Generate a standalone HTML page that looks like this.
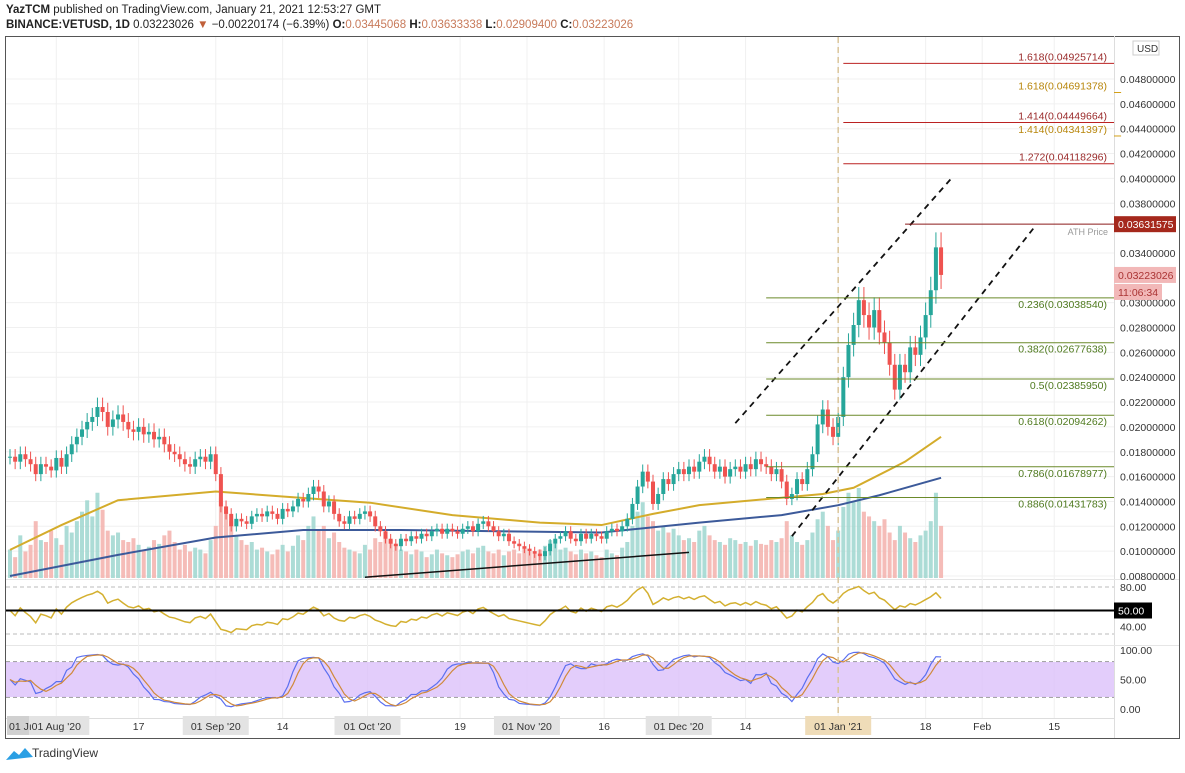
<!DOCTYPE html>
<html><head><meta charset="utf-8"><style>
body{margin:0;background:#fff;width:1185px;height:768px;overflow:hidden;font-family:"Liberation Sans",sans-serif}
svg text{font-family:"Liberation Sans",sans-serif}
</style></head><body>
<svg id="c" width="1185" height="768" xmlns="http://www.w3.org/2000/svg">
<text x="6" y="13" font-size="11.5" fill="#222"><tspan font-weight="bold">YazTCM</tspan> published on TradingView.com, January 21, 2021 12:53:27 GMT</text>
<text x="6" y="28" font-size="11.5" fill="#222"><tspan font-weight="bold">BINANCE:VETUSD, 1D</tspan> 0.03223026 <tspan fill="#c0603a">▼</tspan> −0.00220174 (−6.39%) <tspan font-weight="bold">O:</tspan><tspan fill="#c87a5a">0.03445068</tspan> <tspan font-weight="bold">H:</tspan><tspan fill="#c87a5a">0.03633338</tspan> <tspan font-weight="bold">L:</tspan><tspan fill="#c87a5a">0.02909400</tspan> <tspan font-weight="bold">C:</tspan><tspan fill="#c87a5a">0.03223026</tspan></text>
<rect x="5.5" y="36.5" width="1174" height="702" fill="none" stroke="#555"/>
<line x1="1114.5" y1="36" x2="1114.5" y2="738" stroke="#ddd"/>
<line x1="6" y1="718.5" x2="1114" y2="718.5" stroke="#ddd"/>
<line x1="6" y1="579.5" x2="1179" y2="579.5" stroke="#e6e6e6"/>
<line x1="6" y1="645.5" x2="1179" y2="645.5" stroke="#e6e6e6"/>
<g id="grid"></g>
<rect x="6" y="662" width="1108" height="35" fill="#dcc0fa" opacity="0.8"/>
<g id="marks"></g>
<g id="overlay"></g>
<g id="axes"></g>
<g>
<path d="M6 760 l8 -9 l5 4 l6 -7 l8 9 z" fill="#2a9fe4"/>
<text x="32" y="757" font-size="12" fill="#333">TradingView</text>
</g>
</svg>
<script>
const closes=[17.6,17.2,17.8,17.4,17.0,16.2,17.0,16.8,
16.5,17.5,16.8,17.8,18.6,19.2,19.8,20.4,20.8,21.6,21.2,20.0,20.6,21.0,20.4,19.8,19.6,20.0,19.4,19.6,19.0,19.2,18.6,18.0,17.8,17.4,17.0,16.8,17.4,17.6,17.2,
17.8,16.2,13.6,13.0,12.0,12.6,12.4,12.2,12.8,13.0,12.8,13.2,13.0,12.6,13.4,13.2,13.6,14.2,14.0,14.6,15.2,14.8,13.6,14.0,13.0,12.4,12.2,12.8,12.6,13.0,
13.2,12.8,12.0,11.6,11.0,10.6,10.4,11.0,10.8,11.2,11.0,11.4,11.2,11.6,11.8,11.4,11.8,11.6,11.4,11.8,12.0,11.6,12.2,12.4,12.0,11.6,11.2,11.4,10.8,10.6,10.4,
10.2,10.0,9.8,9.6,10.0,10.6,11.0,11.2,11.6,11.0,10.8,11.4,11.0,11.4,11.2,11.0,11.6,11.8,11.6,12.0,12.6,13.8,15.2,16.4,15.6,13.8,14.6,15.8,15.4,16.2,
16.6,16.2,16.8,16.4,17.2,17.6,17.0,16.4,16.8,16.0,16.6,16.8,16.4,17.0,16.6,17.4,17.0,16.8,16.2,16.6,15.6,14.2,14.6,15.8,15.4,16.6,17.8,20.2,21.4,20.0,19.2,
20.8,24.0,26.6,28.2,30.2,29.0,28.0,29.4,27.6,26.8,25.0,23.0,25.0,24.4,26.4,25.8,27.2,29.0,31.0,34.45,32.23];
const volumes=[30,22,45,28,35,60,40,38,
50,42,35,55,48,60,70,82,65,90,72,50,45,48,40,38,42,35,30,33,40,36,45,50,38,30,35,28,32,30,26,
40,55,85,70,60,45,40,35,38,30,32,28,25,30,35,28,34,45,40,55,65,50,55,42,48,38,32,30,28,26,
35,30,42,38,45,40,35,30,28,25,30,28,22,25,30,26,24,22,25,28,30,26,32,34,28,26,30,24,28,30,26,
32,28,26,30,34,40,36,30,32,28,25,30,26,28,24,22,30,26,24,32,38,55,70,80,65,60,50,55,48,52,
45,40,42,38,50,55,45,40,38,35,42,40,36,38,34,40,36,35,40,38,42,60,45,38,35,40,48,62,70,55,40,
50,75,90,80,95,70,65,60,55,62,48,40,55,48,42,38,45,50,60,90,55];
const ma50=[10.1,12.1,14.1,14.8,14.4,13.9,12.9,12.3,12.1,13.0,13.7,14.3,14.6,15.1,17.2,19.2];
const ma50Day=[0,10,21,40,53,70,86,103,115,125,134,150,158,164,174,181];
const ma200=[8.0,9.7,11.1,11.7,11.7,11.6,11.5,12.3,12.9,13.7,14.5,15.9];
const ma200Day=[0,21,40,57,76,95,115,134,150,161,169,181];
const priceTicks=[0.008,0.010,0.012,0.014,0.016,0.018,0.020,0.022,0.024,0.026,0.028,0.030,0.034,0.038,0.040,0.042,0.044,0.046,0.048];
const fibLevels=[30.3854,26.77638,23.8595,20.94262,16.78977,14.31783];
const fibLabels=["0.236(0.03038540)","0.382(0.02677638)","0.5(0.02385950)","0.618(0.02094262)","0.786(0.01678977)","0.886(0.01431783)"];
const extLevels=[49.25714,46.91378,44.49664,43.41397,41.18296];
const extLabels=["1.618(0.04925714)","1.618(0.04691378)","1.414(0.04449664)","1.414(0.04341397)","1.272(0.04118296)"];
const extColors=["#b22","#d4a017","#b22","#d4a017","#b22"];
const extStartDay=[162,216,162,216,162];
const timeLabels=["01 Aug '20","17","01 Sep '20","14","01 Oct '20","19","01 Nov '20","16","01 Dec '20","14","01 Jan '21","18","Feb","15"];
const timeDays=[9,25,40,53,69.5,87.5,100.5,115.5,130,143,161,178,189,203];
const timeBoxed=[1,0,1,0,1,0,1,0,1,0,2,0,0,0];

const NS="http://www.w3.org/2000/svg";
const X0=10,DX=5.144;
const xs=i=>X0+i*DX;
const yp=v=>576-(v-8)/2*24.85;
const yr=v=>610.5-(v-50)*0.783;
const ys=v=>709-v*0.59;
function mk(tag,at,par){const e=document.createElementNS(NS,tag);for(const k in at)e.setAttribute(k,at[k]);par.appendChild(e);return e;}
const G=document.getElementById('grid'),M=document.getElementById('marks'),O=document.getElementById('overlay'),A=document.getElementById('axes');

priceTicks.forEach(t=>{const l=mk('line',{x1:6,x2:1114,y1:yp(t*1000),y2:yp(t*1000),stroke:'#f0f0f0'},G);

});
timeDays.forEach(d=>{const l=mk('line',{x1:xs(d),x2:xs(d),y1:37,y2:718,stroke:'#f0f0f0'},G);

});
[[yr(80),'#bbb'],[yr(20),'#bbb'],[ys(80),'#888'],[ys(20),'#888']].forEach(([y,c])=>{const l=mk('line',{x1:6,x2:1114,y1:y,y2:y,stroke:c,'stroke-dasharray':'4 3'},G);

});

const vl=mk('line',{x1:xs(161),x2:xs(161),y1:37,y2:718,stroke:'#d9c49a','stroke-dasharray':'6 4','stroke-width':1.5},O);



const vmax=95;
closes.forEach((c,i)=>{const o=i?closes[i-1]:c;const up=c>=o;const h=volumes[i]/vmax*90;
const r=mk('rect',{x:xs(i)-2,y:578-h,width:4,height:h,fill:up?'#9dd6cf':'#f3b0ac',opacity:0.85},M);

});

function poly(vals,days,color,name){const p=mk('polyline',{points:vals.map((v,i)=>xs(days[i])+','+yp(v)).join(' '),fill:'none',stroke:color,'stroke-width':2},M);

}
poly(ma50,ma50Day,'#d4ac2b','ma-50-line');
poly(ma200,ma200Day,'#3c5a9a','ma-200-line');

closes.forEach((c,i)=>{const o=i?closes[i-1]:c;const up=c>=o;const col=up?'#26a69a':'#ef5350';
const hi=Math.max(o,c)*1.035,lo=Math.min(o,c)*0.965;
const w=mk('line',{x1:xs(i),x2:xs(i),y1:yp(hi),y2:yp(lo),stroke:col},M);


const top=yp(Math.max(o,c)),bot=yp(Math.min(o,c));
const b=mk('rect',{x:xs(i)-2,y:top,width:4,height:Math.max(1,bot-top),fill:col},M);

});

function rsi(p,n){const out=[];let ag=0.1,al=0.1;for(let i=0;i<p.length;i++){if(i===0){out.push(50);continue;}const d=p[i]-p[i-1];const g=Math.max(d,0),l=Math.max(-d,0);
ag=(ag*(n-1)+g)/n;al=(al*(n-1)+l)/n;out.push(100-100/(1+ag/al));}return out;}
const R=rsi(closes,14);
const rp=mk('polyline',{points:R.map((v,i)=>xs(i)+','+yr(v)).join(' '),fill:'none',stroke:'#d4b030','stroke-width':1.5},M);


const l50=mk('line',{x1:6,x2:1114,y1:yr(50),y2:yr(50),stroke:'#000','stroke-width':2},O);



const raw=closes.map((c,i)=>{const s=closes.slice(Math.max(0,i-13),i+1);const h=Math.max(...s)*1.02,l=Math.min(...s)*0.98;return h===l?50:(c-l)/(h-l)*100;});
const sma=(a,n)=>a.map((v,i)=>{const s=a.slice(Math.max(0,i-n+1),i+1);return s.reduce((x,y)=>x+y,0)/s.length;});
const K=sma(raw,3),D=sma(K,3);
[[K,'#5b6ff0','stoch-k-line'],[D,'#d0893a','stoch-d-line']].forEach(([a,c,n])=>{const p=mk('polyline',{points:a.map((v,i)=>xs(i)+','+ys(v)).join(' '),fill:'none',stroke:c,'stroke-width':1.2},M);

});

const tl=[[69,7.9,132,9.9,'#111','',1.5,'support-trendline'],[141,20.3,183,40,'#111','6 5',1.8,'upper-channel-line'],[152,11.2,199,36,'#111','6 5',1.8,'lower-channel-line']];
tl.forEach(([a,b,c,d,col,da,w,n])=>{const l=mk('line',{x1:xs(a),y1:yp(b),x2:xs(c),y2:yp(d),stroke:col,'stroke-width':w,'stroke-dasharray':da},O);

});

fibLevels.forEach((v,i)=>{const y=yp(v);const l=mk('line',{x1:xs(147),x2:1114,y1:y,y2:y,stroke:'#6b8a2a'},O);


const t=mk('text',{x:1107,y:y+10,'font-size':10.5,fill:'#4f7a1f','text-anchor':'end'},O);t.textContent=fibLabels[i];

});
extLevels.forEach((v,i)=>{const y=yp(v);const l=mk('line',{x1:xs(extStartDay[i]),x2:1114,y1:y,y2:y,stroke:extColors[i]},O);


const t=mk('text',{x:1107,y:y-3,'font-size':10.5,fill:extColors[i]==='#b22'?'#9a2a2a':'#b8860b','text-anchor':'end'},O);t.textContent=extLabels[i];

});
const ath=mk('line',{x1:xs(174),x2:1114,y1:yp(36.31575),y2:yp(36.31575),stroke:'#8b1a1a'},O);


const athT=mk('text',{x:1108,y:yp(36.31575)+11,'font-size':9,fill:'#999','text-anchor':'end'},O);athT.textContent='ATH Price';



priceTicks.forEach(t=>{const tx=mk('text',{x:1120,y:yp(t*1000)+4,'font-size':10.5,fill:'#333'},A);tx.textContent=t.toFixed(8);

});
function tag(y,txt,bg,fg,name,w){const r=mk('rect',{x:1114,y:y-8,width:w||62,height:16,fill:bg},A);


const t=mk('text',{x:1118,y:y+4,'font-size':10.5,fill:fg},A);t.textContent=txt;

}
tag(yp(36.31575),'0.03631575','#a5281c','#fff','ath-price-tag');
tag(yp(32.23026),'0.03223026','#f2b8b8','#a33','last-price-tag');
tag(yp(32.23026)+17,'11:06:34','#f2b8b8','#a33','countdown-tag',48);
const usd=mk('rect',{x:1133,y:41,width:26,height:14,fill:'#fff',stroke:'#ccc'},A);


const ut=mk('text',{x:1137,y:52,'font-size':10,fill:'#333'},A);ut.textContent='USD';


[[80,yr(80)],[40,yr(40)+8],[100,ys(100)],[50,ys(50)],[0,ys(0)]].forEach(([v,y])=>{const t=mk('text',{x:1120,y:y+4,'font-size':10.5,fill:'#333'},A);t.textContent=v.toFixed(2);

});
tag(yr(50),'50.00','#000','#fff','rsi-50-tag',38);

timeLabels.forEach((s,i)=>{const x=xs(timeDays[i]);
if(timeBoxed[i]){const w=s.length*5.6+10;const r=mk('rect',{x:x-w/2,y:716,width:w,height:19,fill:timeBoxed[i]===2?'#efdcb8':'#e3e3e3'},A);

}
const t=mk('text',{x:x,y:730,'font-size':10.5,fill:'#333','text-anchor':'middle'},A);t.textContent=s;

});
const jl=mk('rect',{x:7,y:716,width:22,height:19,fill:'#d0d0d0'},A);


const jt=mk('text',{x:9,y:730,'font-size':10.5,fill:'#333'},A);jt.textContent='01 Jı';


</script>
</body></html>
